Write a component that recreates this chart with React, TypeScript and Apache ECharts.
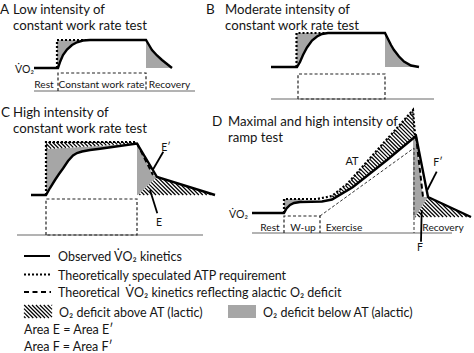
import React, { useEffect, useRef } from "react";
import * as echarts from "echarts";

type P = [number, number];

// ===== Panel A: low intensity constant work rate (x: time units, y: VO2 units) =====
const aRest: P[] = [[0, 23], [24, 23]];
const aOnset: P[] = [[24, 23], [26, 29], [29, 36], [33, 41.5], [38, 46], [43, 48.7], [49, 50.5], [56, 51]];
const aRecovery: P[] = [[112, 51], [115, 46], [118, 41], [123, 35.5], [128, 31], [133, 27], [138, 23]];
const aATP: P[] = [[23, 23], [23, 51], [56, 51]];
const aWork: P[] = [[24, 0], [24, 18], [112, 18], [112, 0]];
const aAxis: P[] = [[0, 0], [161, 0]];

// ===== Panel B: moderate intensity =====
const bRest: P[] = [[0, 32], [26, 32]];
const bOnset: P[] = [[26, 32], [29, 37], [32, 44], [36, 51.5], [41, 58.5], [46, 62.5], [51, 65], [57, 66]];
const bRecovery: P[] = [[114, 66], [117, 60], [120, 54], [123, 49], [128, 42.5], [133, 37.5], [140, 33.5], [148, 32]];
const bATP: P[] = [[25.5, 32], [25.5, 66], [57, 66]];
const bWork: P[] = [[27, 0], [27, 25], [114, 25], [114, 0], [27, 0]];
const bAxis: P[] = [[0, 0], [163, 0]];

// ===== Panel C: high intensity =====
const cRest: P[] = [[14, 40], [29, 40]];
const cOnset: P[] = [[29, 40], [33, 47], [38, 55], [42, 61], [46, 66.5], [51, 74], [56, 79.5], [60, 82], [65, 83.5], [73, 85], [83, 86.3], [120, 91.5]];
const cRecovery: P[] = [[120, 91.5], [140, 58], [198, 40]];
const cATP: P[] = [[29, 40], [29, 93], [120, 93]];
const cAlactic: P[] = [[120, 91.5], [136, 60]];
const cSplitLeft: P = [29, 86];
const cWork: P[] = [[29, 0], [29, 36], [120, 36], [120, 0], [29, 0]];
const cAxis: P[] = [[0, 0], [186, 0]];
const cEPrimePointer: P[] = [[146.3, 83.3], [135.7, 65]];
const cEPointer: P[] = [[140.3, 21.7], [133, 45]];
const cRecoveryGrayTail: P[] = [[140, 58], [121, 40], [120, 40]];
const cRecoveryHatch: P[] = [[140, 58], [198, 40], [121, 40]];

// ===== Panel D: maximal ramp test =====
const dRest: P[] = [[0, 20], [32, 20]];
const dWarmUp: P[] = [[32, 20], [34.5, 24.5], [38, 28], [42, 30], [48, 31], [70, 31.5]];
const dRamp: P[] = [[70, 31.5], [80, 33.5], [101, 46], [118, 59.5], [135, 73], [150, 85.5], [164, 97]];
const dRecovery: P[] = [[164, 97], [176, 36], [219, 16]];
const dATP: P[] = [[32, 20], [32, 34], [65, 34], [80, 37], [95, 49], [161, 123], [163, 97]];
const dAlactic: P[] = [[164, 97], [171, 36]];
const dWarmUpWork: P[] = [[32, 0], [32, 17], [68, 17], [68, 0]];
const dRampWork: P[] = [[68, 17], [162, 85], [162, 0]];
const dAxis: P[] = [[0, 0], [200, 0]];
const dFPrimePointer: P[] = [[184.7, 61.3], [175.3, 43]];
const dFPointer: P[] = [[169, -8.7], [169.7, 23]];
const dGrayWarmUp: P[] = [[32, 20], [32, 34], [52, 34], [48, 31], [42, 30], [38, 28], [34.5, 24.5]];
const dGrayRecovery: P[] = [[161, 97], [164, 97], [171, 36], [176, 36], [163, 16], [161, 16]];
const dHatchRamp: P[] = [[80, 37], [95, 49], [161, 123], [164, 97], [150, 85.5], [135, 73], [118, 59.5], [101, 46], [80, 33.5]];
const dHatchRecovery: P[] = [[176, 36], [219, 16], [163, 16]];

// ===== Texts =====
const legendTexts = [
  "Observed V\u0307O\u2082 kinetics",
  "Theoretically speculated ATP requirement",
  "Theoretical  V\u0307O\u2082 kinetics reflecting alactic O\u2082 deficit",
];
const areaTexts = ["O\u2082 deficit above AT (lactic)", "O\u2082 deficit below AT (alactic)"];
const equalityTexts = ["Area E = Area E\u2032", "Area F = Area F\u2032"];

const GRAY = "#a6a6a6";
const INK = "#151515";
const FONT = "Lato, 'DejaVu Sans', sans-serif";

function hatchSegments(pts: number[][], step: number): number[][][] {
  const cs = pts.map((p) => p[1] - p[0]);
  const cmin = Math.min(...cs);
  const cmax = Math.max(...cs);
  const segs: number[][][] = [];
  for (let c = Math.ceil(cmin / step) * step; c <= cmax; c += step) {
    const xs: number[] = [];
    for (let i = 0; i < pts.length; i++) {
      const p = pts[i];
      const q = pts[(i + 1) % pts.length];
      const dp = p[1] - p[0] - c;
      const dq = q[1] - q[0] - c;
      if (dp < 0 !== dq < 0) {
        const t = dp / (dp - dq);
        xs.push(p[0] + t * (q[0] - p[0]));
      }
    }
    xs.sort((a, b) => a - b);
    for (let k = 0; k + 1 < xs.length; k += 2) {
      segs.push([[xs[k], xs[k] + c], [xs[k + 1], xs[k + 1] + c]]);
    }
  }
  return segs;
}

function hatchChildren(pts: number[][]) {
  const children: any[] = [{ type: "polygon", shape: { points: pts }, style: { fill: "#fff" } }];
  hatchSegments(pts, 3.9).forEach(([a, b]) =>
    children.push({
      type: "line",
      shape: { x1: a[0], y1: a[1], x2: b[0], y2: b[1] },
      style: { stroke: "#000", lineWidth: 1.2 },
    })
  );
  return children;
}

function lineS(g: number, data: P[], width: number, type: any, z: number, color = "#000") {
  return {
    type: "line",
    xAxisIndex: g,
    yAxisIndex: g,
    data,
    symbol: "none",
    showSymbol: false,
    clip: false,
    silent: true,
    z,
    lineStyle: { color, width, type, cap: "butt", join: "miter" },
  };
}

function polyS(g: number, polys: P[][], kind: "gray" | "hatch", z: number) {
  return {
    type: "custom",
    coordinateSystem: "cartesian2d",
    xAxisIndex: g,
    yAxisIndex: g,
    silent: true,
    clip: false,
    z,
    data: polys.map((_, k) => [k, 0]),
    renderItem: (params: any, api: any) => {
      const pts = polys[params.dataIndex].map((p) => api.coord(p));
      if (kind === "gray") {
        return { type: "polygon", shape: { points: pts }, style: { fill: GRAY } };
      }
      return { type: "group", children: hatchChildren(pts) };
    },
  };
}

function txt(x: number, y: number, text: string, size: number, align = "left") {
  return {
    type: "text",
    x,
    y,
    z: 100,
    style: { text, font: `${size}px ${FONT}`, fill: INK, textAlign: align, textVerticalAlign: "middle" },
  };
}

export default function App() {
  const ref = useRef<HTMLDivElement>(null);
  useEffect(() => {
    if (!ref.current) return;
    const chart = echarts.init(ref.current, undefined, { renderer: "svg" });

    const aSolid: P[] = [...aRest, ...aOnset.slice(1), ...aRecovery];
    const bSolid: P[] = [...bRest, ...bOnset.slice(1), ...bRecovery];
    const cSolid: P[] = [...cRest, ...cOnset.slice(1), ...cRecovery.slice(1)];
    const dSolid: P[] = [...dRest, ...dWarmUp.slice(1), ...dRamp.slice(1), ...dRecovery.slice(1)];

    const aGray: P[][] = [[...aATP, ...aOnset.slice().reverse()], [...aRecovery, [aRecovery[0][0], aRest[0][1]]]];
    const bGray: P[][] = [[...bATP, ...bOnset.slice().reverse()], [...bRecovery, [bRecovery[0][0], bRest[0][1]]]];
    const cLast = cOnset[cOnset.length - 1];
    const cGray: P[][] = [
      [cSplitLeft, ...cOnset.slice().reverse()],
      [...cAlactic, ...cRecoveryGrayTail],
    ];
    const cHatch: P[][] = [
      [cSplitLeft, cATP[1], cATP[2], cLast],
      cRecoveryHatch,
    ];

    const grids = [
      { left: 34, top: 31, width: 161, height: 60 },
      { left: 271, top: 29, width: 163, height: 70 },
      { left: 17, top: 135, width: 200, height: 100 },
      { left: 252, top: 103, width: 222, height: 150 },
    ];
    const xr = [[0, 161], [0, 163], [0, 200], [0, 222]];
    const yr = [[0, 60], [0, 70], [0, 100], [-20, 130]];

    const dotted = [2, 2];
    const boxDash = [3, 2.2];
    const bigDash = [5, 3];

    const series: any[] = [
      // fills
      polyS(0, aGray, "gray", 1),
      polyS(1, bGray, "gray", 1),
      polyS(2, cGray, "gray", 1),
      polyS(2, cHatch, "hatch", 2),
      polyS(3, [dGrayWarmUp, dGrayRecovery], "gray", 1),
      polyS(3, [dHatchRamp, dHatchRecovery], "hatch", 2),
      // time axes
      lineS(0, aAxis, 1.4, "solid", 3, "#9a9a9a"),
      lineS(1, bAxis, 1.4, "solid", 3, "#9a9a9a"),
      lineS(2, cAxis, 1.4, "solid", 3, "#9a9a9a"),
      lineS(3, dAxis, 1.4, "solid", 3, "#9a9a9a"),
      // work rate
      lineS(0, aWork, 1.2, boxDash, 4, "#222"),
      lineS(1, bWork, 1.2, boxDash, 4, "#222"),
      lineS(2, cWork, 1.2, boxDash, 4, "#222"),
      lineS(3, dWarmUpWork, 1.2, boxDash, 4, "#222"),
      lineS(3, dRampWork, 1, [3, 2], 4, "#333"),
      // ATP requirement (dotted)
      lineS(0, aATP, 2.2, dotted, 5),
      lineS(1, bATP, 2.2, dotted, 5),
      lineS(2, cATP, 2.2, dotted, 5),
      lineS(3, dATP, 2.2, dotted, 5),
      // alactic theoretical (dashed)
      lineS(2, cAlactic, 2, bigDash, 6),
      lineS(3, dAlactic, 2, bigDash, 6),
      // observed VO2 (solid)
      lineS(0, aSolid, 2.4, "solid", 7),
      lineS(1, bSolid, 2.4, "solid", 7),
      lineS(2, cSolid, 2.4, "solid", 7),
      lineS(3, dSolid, 2.4, "solid", 7),
      // pointers
      lineS(2, cEPrimePointer, 1.8, "solid", 8),
      lineS(2, cEPointer, 1.8, "solid", 8),
      lineS(3, dFPrimePointer, 1.8, "solid", 8),
      lineS(3, dFPointer, 1.8, "solid", 8),
    ];

    const legendHatchBox = [[24, 305], [52, 305], [52, 318], [24, 318]];

    const graphic: any[] = [
      // titles
      txt(0, 9, "A", 13.5),
      txt(13, 9, "Low intensity of", 13.2),
      txt(13, 25, "constant work rate test", 13.2),
      txt(206, 9, "B", 13.5),
      txt(225, 9, "Moderate intensity of", 13.2),
      txt(225, 25, "constant work rate test", 13.2),
      txt(1, 112, "C", 13.5),
      txt(13, 112, "High intensity of", 13.2),
      txt(13, 128, "constant work rate test", 13.2),
      txt(212, 121, "D", 13.5),
      txt(228, 121, "Maximal and high intensity of", 13.2),
      txt(228, 137, "ramp test", 13.2),
      // panel labels
      txt(34, 69, "V\u0307O\u2082", 10.5, "right"),
      txt(44, 84, "Rest", 10.2, "center"),
      txt(101.5, 84, "Constant work rate", 10.2, "center"),
      txt(169.5, 84, "Recovery", 10.2, "center"),
      txt(166, 147, "E\u2032", 10.5, "center"),
      txt(159, 222, "E", 10.5, "center"),
      txt(248, 214, "V\u0307O\u2082", 10.5, "right"),
      txt(352, 160, "AT", 11, "center"),
      txt(270, 227, "Rest", 10.2, "center"),
      txt(303, 227, "W-up", 10.2, "center"),
      txt(344, 227, "Exercise", 10.2, "center"),
      txt(443, 227, "Recovery", 10.2, "center"),
      txt(438, 162, "F\u2032", 10.5, "center"),
      txt(420, 247, "F", 10.5, "center"),
      // legend
      { type: "line", shape: { x1: 24, y1: 256, x2: 50, y2: 256 }, style: { stroke: "#000", lineWidth: 2 } },
      { type: "line", shape: { x1: 24, y1: 274.5, x2: 50, y2: 274.5 }, style: { stroke: "#000", lineWidth: 2, lineDash: [2, 2] } },
      { type: "line", shape: { x1: 24, y1: 292, x2: 51, y2: 292 }, style: { stroke: "#000", lineWidth: 2, lineDash: [5, 3.5] } },
      txt(58, 256, legendTexts[0], 12.5),
      txt(58, 275, legendTexts[1], 12.5),
      txt(58, 292, legendTexts[2], 12.5),
      { type: "group", children: hatchChildren(legendHatchBox) },
      txt(59, 312, areaTexts[0], 12.5),
      { type: "rect", shape: { x: 228, y: 305, width: 28, height: 13 }, style: { fill: GRAY } },
      txt(263, 312, areaTexts[1], 12.5),
      txt(24, 329, equalityTexts[0], 12.5),
      txt(24, 346, equalityTexts[1], 12.5),
    ];

    chart.setOption({
      animation: false,
      backgroundColor: "#fff",
      grid: grids.map((g) => ({ ...g, outerBoundsMode: "none", containLabel: false })),
      xAxis: xr.map((r, i) => ({ type: "value", gridIndex: i, min: r[0], max: r[1], show: false })),
      yAxis: yr.map((r, i) => ({ type: "value", gridIndex: i, min: r[0], max: r[1], show: false })),
      series,
      graphic,
    });
    return () => chart.dispose();
  }, []);
  return <div ref={ref} style={{ position: "fixed", left: 0, top: 0, width: 474, height: 353 }} />;
}
